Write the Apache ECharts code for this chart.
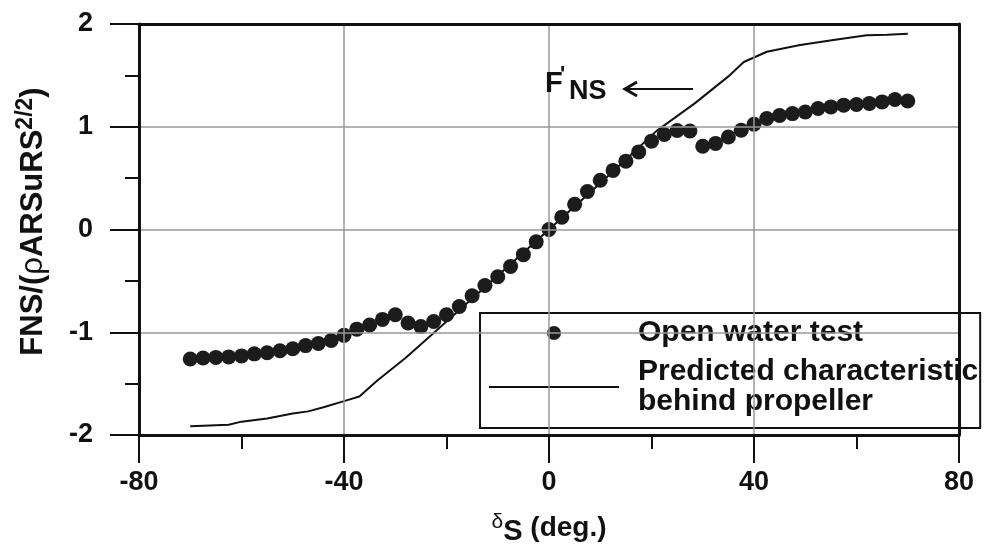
<!DOCTYPE html>
<html>
<head>
<meta charset="utf-8">
<script src="https://cdn.jsdelivr.net/npm/echarts@6/dist/echarts.min.js"></script>
<style>
  html, body { margin: 0; padding: 0; background: #fff; }
  #chart { width: 993px; height: 555px; }
</style>
</head>
<body>
<div id="chart"></div>
<script>
// open water test, every 2.5 deg from -70 to 70
const testAngles = [
  -70, -67.5, -65, -62.5, -60, -57.5, -55, -52.5, -50, -47.5, -45, -42.5, -40, -37.5, -35, -32.5,
  -30, -27.5, -25, -22.5, -20, -17.5, -15, -12.5, -10, -7.5, -5, -2.5, 0, 2.5, 5, 7.5,
  10, 12.5, 15, 17.5, 20, 22.5, 25, 27.5, 30, 32.5, 35, 37.5, 40, 42.5, 45, 47.5,
  50, 52.5, 55, 57.5, 60, 62.5, 65, 67.5, 70
];
const testValues = [
  -1.26, -1.25, -1.245, -1.24, -1.23, -1.21, -1.2, -1.18, -1.16, -1.13, -1.11, -1.08, -1.03, -0.97, -0.93, -0.875,
  -0.83, -0.91, -0.945, -0.895, -0.83, -0.75, -0.645, -0.545, -0.46, -0.36, -0.245, -0.12, 0, 0.12, 0.245, 0.37,
  0.48, 0.575, 0.665, 0.755, 0.86, 0.925, 0.963, 0.958, 0.81, 0.838, 0.9, 0.966, 1.024, 1.08, 1.11, 1.128,
  1.144, 1.177, 1.193, 1.21, 1.216, 1.226, 1.242, 1.265, 1.25
];

// predicted characteristic behind propeller
const predAngles = [-70, -62.5, -60, -55, -50, -47, -44, -40, -37, -33.5, -28, -23, -10, 0, 10, 21, 28.5, 35, 38, 42.5, 49, 55.5, 62, 66, 70];
const predValues = [-1.915, -1.9, -1.87, -1.84, -1.79, -1.77, -1.73, -1.67, -1.626, -1.47, -1.25, -1.03, -0.45, 0, 0.45, 0.96, 1.23, 1.49, 1.63, 1.73, 1.795, 1.845, 1.89, 1.895, 1.905];

const xTicks = [-80, -40, 0, 40, 80];
const yTicks = [-2, -1, 0, 1, 2];

const FONT = '"Liberation Sans", Arial, sans-serif';
const INK = '#111';

// plain frame axes for the top and right edges
const frameAxis = {
  type: 'value',
  axisLine: { show: true, onZero: false, lineStyle: { color: INK, width: 3 } },
  axisTick: { show: false },
  axisLabel: { show: false },
  splitLine: { show: false }
};

const chart = echarts.init(document.getElementById('chart'));

chart.setOption({
  animation: false,
  textStyle: { fontFamily: FONT, fontWeight: 'bold', color: INK },
  grid: {
    left: 139, right: 34, top: 24, bottom: 120
  },
  xAxis: [{
    type: 'value',
    min: xTicks[0], max: xTicks[xTicks.length - 1], interval: 40,
    name: '{d|δ}{s|S} (deg.)',
    nameLocation: 'middle',
    nameGap: 76,
    nameTextStyle: {
      fontFamily: FONT, fontWeight: 'bold', fontSize: 28, color: INK,
      rich: {
        d: { fontFamily: FONT, fontWeight: 'normal', fontSize: 21, color: INK, padding: [0, 0, 12, 0] },
        s: { fontFamily: FONT, fontWeight: 'bold', fontSize: 29, color: INK, padding: [6, 0, 0, 0] }
      }
    },
    axisLine: { onZero: false, lineStyle: { color: INK, width: 3 } },
    axisTick: { inside: false, length: 28, lineStyle: { color: INK, width: 2 } },
    minorTick: { show: true, splitNumber: 2, length: 14, lineStyle: { color: INK, width: 2 } },
    axisLabel: { margin: 34, fontSize: 27, fontWeight: 'bold', color: INK, fontFamily: FONT },
    splitLine: { show: true, lineStyle: { color: '#999', width: 1.5 } },
    z: 5
  }, Object.assign({}, frameAxis, {
    position: 'top', min: xTicks[0], max: xTicks[xTicks.length - 1], z: 5
  })],
  yAxis: [{
    type: 'value',
    min: yTicks[0], max: yTicks[yTicks.length - 1], interval: 1,
    name: 'FNS/({r|ρ}ARSuRS{sup|2/2})',
    nameLocation: 'middle',
    nameGap: 86,
    nameTextStyle: {
      fontFamily: FONT, fontWeight: 'bold', fontSize: 31, color: INK,
      padding: [0, 0, 0, 16],
      rich: {
        r: { fontFamily: FONT, fontWeight: 'normal', fontSize: 31, color: INK },
        sup: { fontFamily: FONT, fontWeight: 'bold', fontSize: 23, color: INK, padding: [0, 0, 16, 0] }
      }
    },
    axisLine: { onZero: false, lineStyle: { color: INK, width: 3 } },
    axisTick: { inside: false, length: 29, lineStyle: { color: INK, width: 2 } },
    minorTick: { show: true, splitNumber: 2, length: 14, lineStyle: { color: INK, width: 2 } },
    axisLabel: { margin: 46, fontSize: 27, fontWeight: 'bold', color: INK, fontFamily: FONT },
    splitLine: { show: true, lineStyle: { color: '#999', width: 1.5 } },
    z: 5
  }, Object.assign({}, frameAxis, {
    position: 'right', min: yTicks[0], max: yTicks[yTicks.length - 1], z: 5
  })],
  legend: {
    left: 480, top: 313,
    orient: 'vertical',
    data: [
      { name: 'Open water test' },
      { name: 'Predicted characteristic\nbehind propeller', itemStyle: { opacity: 0 } }
    ],
    itemWidth: 130, itemHeight: 14, itemGap: 9,
    padding: [5, 2, 11, 8],
    borderColor: INK, borderWidth: 2,
    backgroundColor: 'transparent',
    textStyle: {
      fontFamily: FONT, fontWeight: 'bold', fontSize: 30, color: INK, lineHeight: 30,
      padding: [0, 0, 0, 14]
    }
  },
  graphic: [
    { type: 'text', z: 100, left: 545, top: 69, style: { text: 'F', fontFamily: FONT, fontWeight: 'bold', fontSize: 29, fill: INK } },
    { type: 'text', z: 100, left: 560, top: 64, style: { text: '\'', fontFamily: FONT, fontWeight: 'bold', fontSize: 22, fill: INK } },
    { type: 'text', z: 100, left: 569, top: 78, style: { text: 'NS', fontFamily: FONT, fontWeight: 'bold', fontSize: 27, fill: INK } },
    { type: 'line', z: 100, shape: { x1: 624, y1: 89, x2: 693, y2: 89 }, style: { stroke: INK, lineWidth: 2 } },
    { type: 'polyline', z: 100, shape: { points: [[637, 82], [625, 89], [637, 96]] }, style: { stroke: INK, lineWidth: 3, fill: null } }
  ],
  series: [
    {
      name: 'Predicted characteristic\nbehind propeller',
      type: 'line',
      data: predAngles.map((a, i) => [a, predValues[i]]),
      symbol: 'none',
      lineStyle: { color: INK, width: 2 },
      itemStyle: { color: INK },
      z: 2
    },
    {
      name: 'Open water test',
      type: 'scatter',
      data: testAngles.map((a, i) => [a, testValues[i]]),
      symbol: 'circle',
      symbolSize: 15,
      itemStyle: { color: '#1c1c1c', opacity: 1 },
      z: 3
    }
  ]
});
</script>
</body>
</html>
